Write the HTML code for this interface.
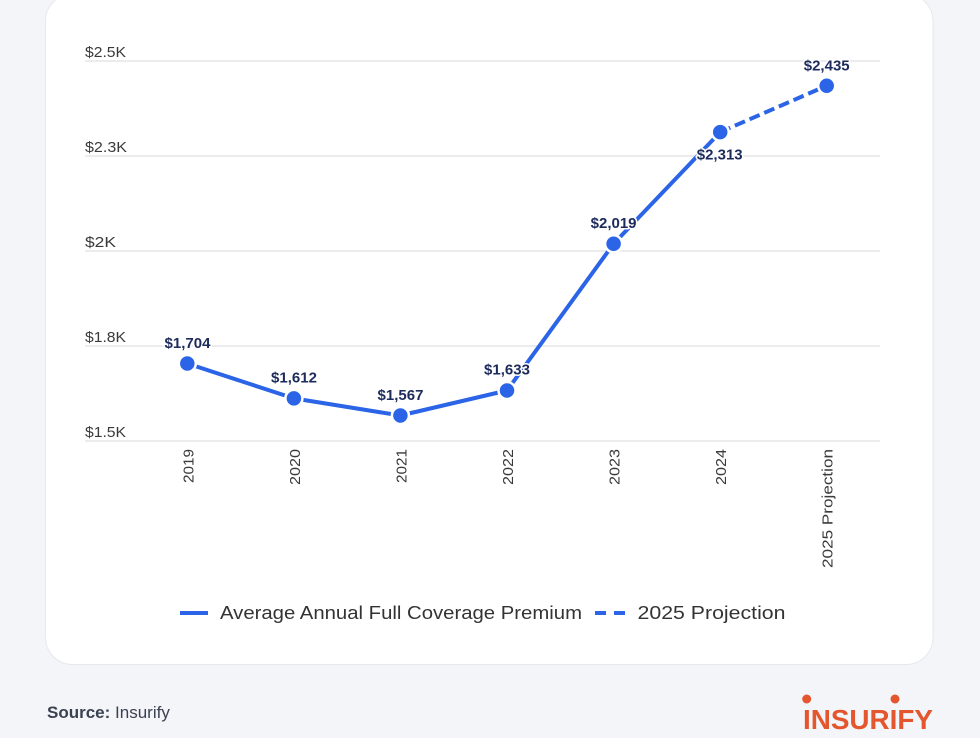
<!DOCTYPE html>
<html>
<head>
<meta charset="utf-8">
<style>
  html,body{margin:0;padding:0;background:#f4f5f9;}
  body{width:980px;height:738px;overflow:hidden;}
  svg{display:block;}
  text{font-family:"Liberation Sans",Arial,sans-serif;}
</style>
</head>
<body>
<svg width="980" height="738" viewBox="0 0 980 738" xmlns="http://www.w3.org/2000/svg">
  <rect x="0" y="0" width="980" height="738" fill="#f4f5f9"/>
  <!-- card -->
  <rect x="45.5" y="-6" width="887.5" height="670.5" rx="27" ry="27" fill="#ffffff" stroke="#e6e8ee" stroke-width="1"/>

  <!-- gridlines -->
  <g stroke="#e4e5e8" stroke-width="1.5">
    <line x1="85" y1="61" x2="880" y2="61"/>
    <line x1="85" y1="156" x2="880" y2="156"/>
    <line x1="85" y1="251" x2="880" y2="251"/>
    <line x1="85" y1="346" x2="880" y2="346"/>
    <line x1="85" y1="441" x2="880" y2="441"/>
  </g>

  <!-- y labels -->
  <g fill="#3a3a3a" font-size="15">
    <text x="85" y="57" textLength="41" lengthAdjust="spacingAndGlyphs">$2.5K</text>
    <text x="85" y="152" textLength="42" lengthAdjust="spacingAndGlyphs">$2.3K</text>
    <text x="85" y="247" textLength="31" lengthAdjust="spacingAndGlyphs">$2K</text>
    <text x="85" y="342" textLength="41" lengthAdjust="spacingAndGlyphs">$1.8K</text>
    <text x="85" y="437" textLength="41" lengthAdjust="spacingAndGlyphs">$1.5K</text>
  </g>

  <!-- x labels -->
  <g fill="#3a3a3a" font-size="15" text-anchor="end">
    <text transform="translate(193.5,449) rotate(-90)" textLength="34" lengthAdjust="spacingAndGlyphs">2019</text>
    <text transform="translate(300,449) rotate(-90)" textLength="36" lengthAdjust="spacingAndGlyphs">2020</text>
    <text transform="translate(406.5,449) rotate(-90)" textLength="34" lengthAdjust="spacingAndGlyphs">2021</text>
    <text transform="translate(513,449) rotate(-90)" textLength="36" lengthAdjust="spacingAndGlyphs">2022</text>
    <text transform="translate(619.5,449) rotate(-90)" textLength="36" lengthAdjust="spacingAndGlyphs">2023</text>
    <text transform="translate(726,449) rotate(-90)" textLength="36" lengthAdjust="spacingAndGlyphs">2024</text>
    <text transform="translate(832.5,449) rotate(-90)" textLength="119" lengthAdjust="spacingAndGlyphs">2025 Projection</text>
  </g>

  <!-- series lines -->
  <polyline points="187.3,363.5 293.9,398.4 400.4,415.5 507,390.5 613.6,243.8 720.2,132.1" fill="none" stroke="#2b64e6" stroke-width="4" stroke-linejoin="round" stroke-linecap="butt"/>
  <line x1="720.2" y1="132.1" x2="826.7" y2="85.7" stroke="#2b64e6" stroke-width="4" stroke-dasharray="11 5"/>

  <!-- markers -->
  <g fill="#2b64e6" stroke="#ffffff" stroke-width="2.5">
    <circle cx="187.3" cy="363.5" r="8.5"/>
    <circle cx="293.9" cy="398.4" r="8.5"/>
    <circle cx="400.4" cy="415.5" r="8.5"/>
    <circle cx="507" cy="390.5" r="8.5"/>
    <circle cx="613.6" cy="243.8" r="8.5"/>
    <circle cx="720.2" cy="132.1" r="8.5"/>
    <circle cx="826.7" cy="85.7" r="8.5"/>
  </g>

  <!-- data labels -->
  <g fill="#1d2b5c" font-size="15" font-weight="bold" text-anchor="middle" stroke="#ffffff" stroke-width="3" paint-order="stroke" stroke-linejoin="round">
    <text x="187.5" y="348">$1,704</text>
    <text x="294" y="382.5">$1,612</text>
    <text x="400.5" y="400">$1,567</text>
    <text x="507" y="374.5">$1,633</text>
    <text x="613.6" y="228">$2,019</text>
    <text x="719.7" y="159.5">$2,313</text>
    <text x="826.7" y="70.5">$2,435</text>
  </g>

  <!-- legend -->
  <line x1="180" y1="613" x2="208" y2="613" stroke="#2b64e6" stroke-width="4"/>
  <text x="220" y="619" font-size="18" fill="#333333" textLength="362" lengthAdjust="spacingAndGlyphs">Average Annual Full Coverage Premium</text>
  <line x1="595" y1="613" x2="625" y2="613" stroke="#2b64e6" stroke-width="4" stroke-dasharray="11 8"/>
  <text x="637.5" y="619" font-size="18" fill="#333333" textLength="148" lengthAdjust="spacingAndGlyphs">2025 Projection</text>

  <!-- source -->
  <text x="47" y="718" font-size="17" fill="#3a4150"><tspan font-weight="bold">Source:</tspan> Insurify</text>

  <!-- logo -->
  <text x="803" y="729" font-size="28" font-weight="bold" fill="#e4562d" textLength="130" lengthAdjust="spacingAndGlyphs">INSURIFY</text>
  <circle cx="806.7" cy="699" r="4.5" fill="#e4562d"/>
  <circle cx="895" cy="699" r="4.5" fill="#e4562d"/>
</svg>
</body>
</html>
